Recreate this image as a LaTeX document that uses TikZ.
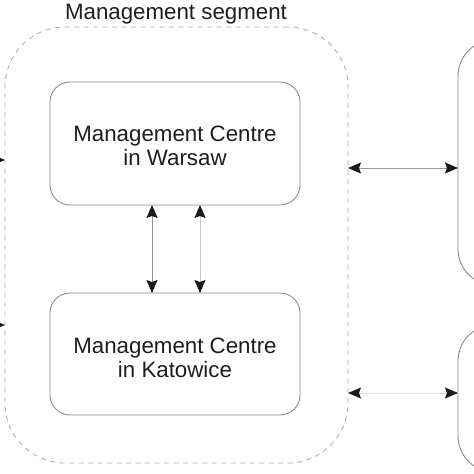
\documentclass[tikz,border=0pt]{standalone}
\usepackage{fontspec}
\setmainfont{Liberation Sans}
\usetikzlibrary{arrows.meta}
\definecolor{edgegray}{HTML}{8C8C8C}
\definecolor{dashgray}{HTML}{ABABAB}
\definecolor{txt}{HTML}{1E1E1E}
\definecolor{tipblack}{HTML}{1A1A1A}
\tikzset{
  outerbox/.style={draw=dashgray, line width=0.8pt, dash pattern=on 5pt off 4.5pt, rounded corners=60pt, inner sep=0pt, outer sep=0pt},
  centrebox/.style={draw=edgegray, line width=0.9pt, rounded corners=20pt, inner sep=0pt, outer sep=0pt, minimum width=250pt, minimum height=123pt},
  sidebox/.style={draw=edgegray, line width=0.9pt, rounded corners=36pt, inner sep=0pt, outer sep=0pt, minimum width=200pt},
  lbl/.style={text=txt, font=\fontsize{22.3pt}{24.5pt}\selectfont, align=center, inner sep=0pt},
  tipshape/.style={},
  arr/.style={{Stealth[length=13pt,width=11pt,inset=2pt,color=tipblack]}-{Stealth[length=13pt,width=11pt,inset=2pt,color=tipblack]}, line width=0.8pt, draw=#1},
  arr/.default=gray,
  onearr/.style={-{Stealth[length=13pt,width=11pt,inset=2pt,color=tipblack]}, line width=0.8pt, draw=#1},
}
\begin{document}
\begin{tikzpicture}[x=1pt,y=-1pt]
\useasboundingbox (0,0) rectangle (474,474);
\clip (0,0) rectangle (474,474);
\fill[white] (0,0) rectangle (474,474);

\node[lbl] (title) at (176,14) {Management segment};

\node[outerbox, minimum width=343pt, minimum height=436pt] (outer) at (176.5,245) {};

\node[centrebox] (warsaw) at (175,143.5) {};
\node[lbl] (wtext) at (175,146) {Management Centre\\in Warsaw};

\node[centrebox, minimum height=122pt] (katowice) at (175,354) {};
\node[lbl] (ktext) at (175,358) {Management Centre\\in Katowice};

\node[sidebox, minimum height=245pt] (rtop) at (558,162.5) {};
\node[sidebox, minimum height=147pt] (rbot) at (558,398.5) {};

\coordinate (lin1) at (-60,160);
\coordinate (lin2) at (-60,325);

\draw[arr=gray!85] ([xshift=-23pt]warsaw.south) -- ([xshift=-23pt]katowice.north);
\draw[arr=gray!45] ([xshift=25pt]warsaw.south) -- ([xshift=25pt]katowice.north);

\draw[arr=gray!80] (outer.east |- 0,168) -- (rtop.west |- 0,168);
\draw[arr=gray!25] (outer.east |- 0,393) -- (rbot.west |- 0,393);

\draw[onearr=gray!80] (lin1) -- (outer.west |- lin1);
\draw[onearr=gray!40] (lin2) -- (outer.west |- lin2);
\end{tikzpicture}
\end{document}
